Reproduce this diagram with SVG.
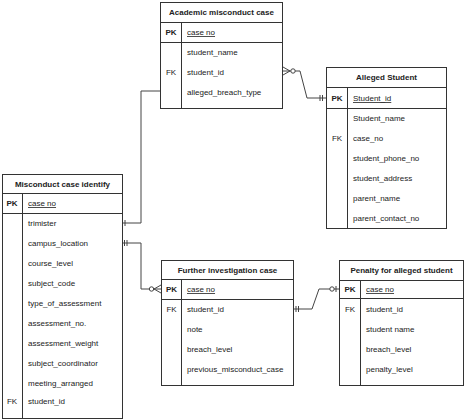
<svg xmlns="http://www.w3.org/2000/svg" width="474" height="420" viewBox="0 0 474 420">
<style>
.box{fill:#fff;stroke:#333;stroke-width:1}
.ln{fill:none;stroke:#333;stroke-width:1}
.cn{fill:none;stroke:#444;stroke-width:1}
.ci{fill:#fff;stroke:#444;stroke-width:1}
text{font-family:"Liberation Sans",Arial,sans-serif;font-size:8px;fill:#222}
.h{font-weight:bold;text-anchor:middle}
.k{text-anchor:middle}
.p{text-anchor:middle;font-weight:bold}
.u{text-decoration:underline}
</style>
<rect width="474" height="420" fill="#fff"/>
<g id="connectors">
<path class="cn" d="M283,71 H300 L307,98 H326"/>
<path class="cn" d="M283,67 L290,71 L283,75"/>
<circle class="ci" cx="293" cy="71" r="2.2"/>
<path class="cn" d="M320,95 V101 M322.5,95 V101"/>
<path class="cn" d="M122,223 H141 V91 H160"/>
<path class="cn" d="M125,220 V226"/>
<path class="cn" d="M122,243 H141 V289 H161"/>
<path class="cn" d="M124.5,240 V246 M127,240 V246"/>
<path class="cn" d="M161,285 L154,289 L161,293"/>
<circle class="ci" cx="151.5" cy="289" r="2.2"/>
<path class="cn" d="M293,309 H312 L319,289 H339"/>
<path class="cn" d="M296,306 V312 M298.5,306 V312"/>
<circle class="ci" cx="332" cy="289" r="2.2"/>
<path class="cn" d="M336,286 V292"/>
</g>
<g id="academic">
<rect class="box" x="160.5" y="2.5" width="122" height="106"/>
<path class="ln" d="M160.5,22.5 H282.5 M160.5,42.5 H282.5 M181.5,22.5 V108.5"/>
<text class="h" x="221.5" y="15">Academic misconduct case</text>
<text class="p" x="171" y="35">PK</text>
<text class="u" x="187" y="35">case no</text>
<text x="187" y="55">student_name</text>
<text class="k" x="171" y="75">FK</text>
<text x="187" y="75">student_id</text>
<text x="187" y="95">alleged_breach_type</text>
</g>
<g id="alleged">
<rect class="box" x="326.5" y="67.5" width="120" height="161"/>
<path class="ln" d="M326.5,87.5 H446.5 M326.5,108.5 H446.5 M347.5,87.5 V228.5"/>
<text class="h" x="386.5" y="80">Alleged Student</text>
<text class="p" x="337" y="101">PK</text>
<text class="u" x="353" y="101">Student_id</text>
<text x="353" y="121">Student_name</text>
<text class="k" x="337" y="141">FK</text>
<text x="353" y="141">case_no</text>
<text x="353" y="161">student_phone_no</text>
<text x="353" y="181">student_address</text>
<text x="353" y="201">parent_name</text>
<text x="353" y="221">parent_contact_no</text>
</g>
<g id="misconduct">
<rect class="box" x="2.5" y="174.5" width="120" height="244"/>
<path class="ln" d="M2.5,193.5 H122.5 M2.5,213.5 H122.5 M22.5,193.5 V418.5"/>
<text class="h" x="62.5" y="187">Misconduct case identify</text>
<text class="p" x="12" y="206">PK</text>
<text class="u" x="28" y="206">case no</text>
<text x="28" y="226">trimister</text>
<text x="28" y="246">campus_location</text>
<text x="28" y="266">course_level</text>
<text x="28" y="286">subject_code</text>
<text x="28" y="306">type_of_assessment</text>
<text x="28" y="326">assessment_no.</text>
<text x="28" y="346">assessment_weight</text>
<text x="28" y="366">subject_coordinator</text>
<text x="28" y="386">meeting_arranged</text>
<text class="k" x="12" y="404">FK</text>
<text x="28" y="404">student_id</text>
</g>
<g id="further">
<rect class="box" x="161.5" y="260.5" width="132" height="125"/>
<path class="ln" d="M161.5,279.5 H293.5 M161.5,299.5 H293.5 M181.5,279.5 V385.5"/>
<text class="h" x="227.5" y="273">Further investigation case</text>
<text class="p" x="171.5" y="292">PK</text>
<text class="u" x="187" y="292">case no</text>
<text class="k" x="171.5" y="312">FK</text>
<text x="187" y="312">student_id</text>
<text x="187" y="332">note</text>
<text x="187" y="352">breach_level</text>
<text x="187" y="372">previous_misconduct_case</text>
</g>
<g id="penalty">
<rect class="box" x="339.5" y="260.5" width="124" height="125"/>
<path class="ln" d="M339.5,280.5 H463.5 M339.5,298.5 H463.5 M360.5,280.5 V385.5"/>
<text class="h" x="401.5" y="273">Penalty for alleged student</text>
<text class="p" x="350" y="292">PK</text>
<text class="u" x="366" y="292">case no</text>
<text class="k" x="350" y="312">FK</text>
<text x="366" y="312">student_id</text>
<text x="366" y="332">student name</text>
<text x="366" y="352">breach_level</text>
<text x="366" y="372">penalty_level</text>
</g>
</svg>
